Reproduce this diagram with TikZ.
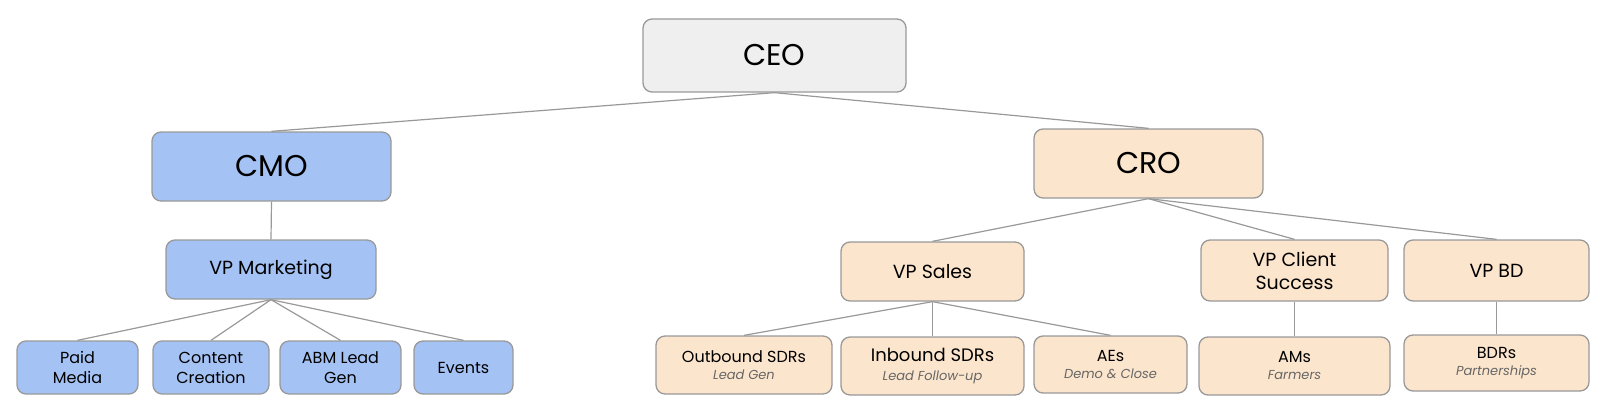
\documentclass[tikz,border=0pt]{standalone}
\usepackage{fontspec}
\setmainfont{Poppins}
\usepackage{tikz}

\definecolor{ceofill}{HTML}{EFEFEF}
\definecolor{mktfill}{HTML}{A4C2F4}
\definecolor{salesfill}{HTML}{FCE5CD}
\definecolor{boxline}{HTML}{999999}
\definecolor{subtext}{HTML}{666666}

\tikzset{
  box/.style={draw=boxline, line width=1.3pt, rounded corners=9pt, inner sep=0pt, align=center},
  ceobox/.style={box, fill=ceofill},
  mktbox/.style={box, fill=mktfill},
  salesbox/.style={box, fill=salesfill},
  topfont/.style={font=\fontsize{30}{36}\selectfont},
  vpfont/.style={font=\fontsize{19}{23}\selectfont},
  teamfont/.style={font=\fontsize{16}{20}\selectfont},
  link/.style={draw=boxline, line width=1.2pt}
}
\newcommand{\subline}[1]{\\[-3pt]{\fontsize{13}{15}\selectfont\itshape\color{subtext}#1}}

\begin{document}
\begin{tikzpicture}[x=1pt, y=-1pt]
                \useasboundingbox (0,0) rectangle (1600,404);
                % Nodes
                \node[ceobox, topfont, minimum width=263pt, minimum height=73pt] (ceo) at (774.5,55.5) {CEO};
                \node[mktbox, topfont, minimum width=239pt, minimum height=69pt] (cmo) at (271.5,166.5) {CMO};
                \node[salesbox, topfont, minimum width=229pt, minimum height=69pt] (cro) at (1148.5,163.5) {CRO};

                \node[mktbox, vpfont, minimum width=210pt, minimum height=59pt] (vpm) at (271,269.5) {VP Marketing};
                \node[salesbox, vpfont, minimum width=183pt, minimum height=59pt] (vps) at (932.5,271.5) {VP Sales};
                \node[salesbox, vpfont, minimum width=187pt, minimum height=61pt] (vpcs) at (1294.5,270.5) {VP Client\\Success};
                \node[salesbox, vpfont, minimum width=185pt, minimum height=61pt] (vpbd) at (1496.5,270.5) {VP BD};

                \node[mktbox, teamfont, minimum width=121pt, minimum height=53pt] (paid) at (77.5,367.5) {Paid\\Media};
                \node[mktbox, teamfont, minimum width=116pt, minimum height=53pt] (content) at (211,367.5) {Content\\Creation};
                \node[mktbox, teamfont, minimum width=121pt, minimum height=53pt] (abm) at (340.5,367.5) {ABM Lead\\Gen};
                \node[mktbox, teamfont, minimum width=99pt, minimum height=53pt] (events) at (463.5,367.5) {Events};

                \node[salesbox, teamfont, minimum width=176pt, minimum height=58pt] (outsdr) at (744,365) {Outbound SDRs\subline{Lead Gen}};
                \node[salesbox, font=\fontsize{18}{22}\selectfont, minimum width=183pt, minimum height=58pt] (insdr) at (932.5,366) {Inbound SDRs\subline{Lead Follow-up}};
                \node[salesbox, teamfont, minimum width=153pt, minimum height=57pt] (aes) at (1110.5,364.5) {AEs\subline{Demo \& Close}};
                \node[salesbox, teamfont, minimum width=191pt, minimum height=58pt] (ams) at (1294.5,366) {AMs\subline{Farmers}};
                \node[salesbox, teamfont, minimum width=185pt, minimum height=56pt] (bdrs) at (1496.5,363) {BDRs\subline{Partnerships}};

                % Edges
                \draw[link] (ceo.south)--(cmo.north);
                \draw[link] (ceo.south)--(cro.north);
                \draw[link] (cmo.south)--(vpm.north);
                \draw[link] (vpm.south)--(paid.north);
                \draw[link] (vpm.south)--(content.north);
                \draw[link] (vpm.south)--(abm.north);
                \draw[link] (vpm.south)--(events.north);
                \draw[link] (cro.south)--(vps.north);
                \draw[link] (cro.south)--(vpcs.north);
                \draw[link] (cro.south)--(vpbd.north);
                \draw[link] (vps.south)--(outsdr.north);
                \draw[link] (vps.south)--(insdr.north);
                \draw[link] (vps.south)--(aes.north);
                \draw[link] (vpcs.south)--(ams.north);
                \draw[link] (vpbd.south)--(bdrs.north);
            \end{tikzpicture}
\end{document}
